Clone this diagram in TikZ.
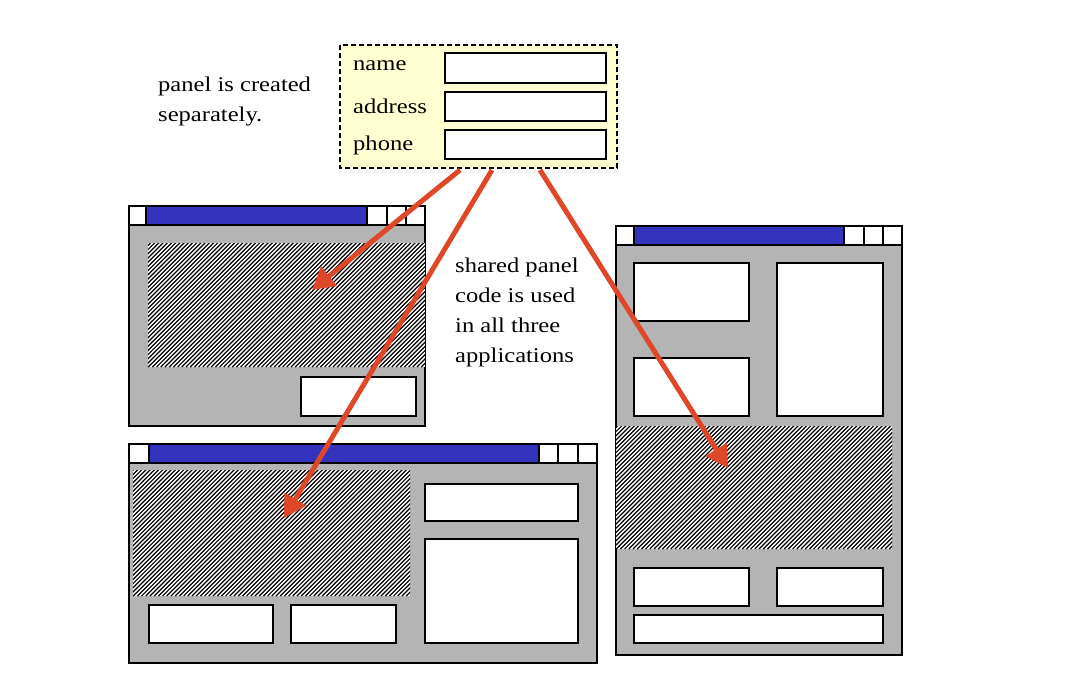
\documentclass[tikz,border=0pt]{standalone}
\usepackage{fontspec}
\setmainfont{Liberation Serif}[FakeStretch=1.17]
\usetikzlibrary{arrows.meta}
\definecolor{bar}{RGB}{51,51,190}
\definecolor{body}{RGB}{180,180,180}
\definecolor{pan}{RGB}{255,255,210}
\definecolor{arr}{RGB}{222,72,40}
\begin{document}
\begin{tikzpicture}[x=1pt,y=-1pt,
  box/.style={draw=black,fill=white,line width=1.3pt},
  win/.style={draw=black,fill=body,line width=1.3pt},
  ttl/.style={draw=black,fill=bar,line width=1.3pt},
  lbl/.style={font=\fontsize{21}{30}\selectfont,anchor=west,inner sep=0pt},
  arrow/.style={draw=arr,line width=5pt,-{Triangle[length=22pt,width=24pt]}}]
\useasboundingbox (0,0) rectangle (1078,674);
\newcommand\hatch[4]{%
  \fill[white] (#1,#2) rectangle (#3,#4);
  \begin{scope}
  \clip (#1,#2) rectangle (#3,#4);
  \foreach \k in {0,4.2,...,450} {\draw[line width=1.2pt] (#1+\k-130,#4) -- (#1+\k,#4-130);}
  \end{scope}}
% panel
\draw[dash pattern=on 5pt off 3pt,fill=pan,line width=1.3pt] (340,45) rectangle (617,168);
\node[lbl] (n) at (353,66) {name};
\node[lbl] (a) at (353,106) {address};
\node[lbl] (p) at (353,145) {phone};
\draw[box] (445,53) rectangle (606,83);
\draw[box] (445,92) rectangle (606,121);
\draw[box] (445,130) rectangle (606,159);
\node[lbl,align=left,anchor=north west] (t1) at (158,77) {panel is created\\separately.};
\node[lbl,align=left,anchor=north west] (t2) at (455,258) {shared panel\\code is used\\in all three\\applications};
% window 1
\draw[win] (129,225) rectangle (425,426);
\draw[box] (129,206) rectangle (146,225);
\draw[ttl] (146,206) rectangle (367,225);
\draw[box] (367,206) rectangle (387,225);
\draw[box] (387,206) rectangle (406,225);
\draw[box] (406,206) rectangle (425,225);
\hatch{148}{243}{425}{367}
\draw[box] (301,377) rectangle (416,416);
% window 2
\draw[win] (129,463) rectangle (597,663);
\draw[box] (129,444) rectangle (149,463);
\draw[ttl] (149,444) rectangle (539,463);
\draw[box] (539,444) rectangle (558,463);
\draw[box] (558,444) rectangle (578,463);
\draw[box] (578,444) rectangle (597,463);
\hatch{133}{470}{410}{596}
\draw[box] (425,484) rectangle (578,521);
\draw[box] (425,539) rectangle (578,643);
\draw[box] (149,605) rectangle (273,643);
\draw[box] (291,605) rectangle (396,643);
% window 3
\draw[win] (616,245) rectangle (902,655);
\draw[box] (616,226) rectangle (634,245);
\draw[ttl] (634,226) rectangle (844,245);
\draw[box] (844,226) rectangle (864,245);
\draw[box] (864,226) rectangle (883,245);
\draw[box] (883,226) rectangle (902,245);
\draw[box] (634,263) rectangle (749,321);
\draw[box] (634,358) rectangle (749,416);
\draw[box] (777,263) rectangle (883,416);
\hatch{616}{426}{892}{549}
\draw[box] (634,568) rectangle (749,606);
\draw[box] (777,568) rectangle (883,606);
\draw[box] (634,615) rectangle (883,643);
% arrows
\coordinate (s1) at (460,170); \coordinate (e1) at (312,290);
\coordinate (s2) at (492,170); \coordinate (e2) at (284,518);
\coordinate (s3) at (540,170); \coordinate (e3) at (728,468);
\draw[arrow] (s1) -- (e1);
\draw[arrow] (s2) -- (e2);
\draw[arrow] (s3) -- (e3);
\end{tikzpicture}
\end{document}
